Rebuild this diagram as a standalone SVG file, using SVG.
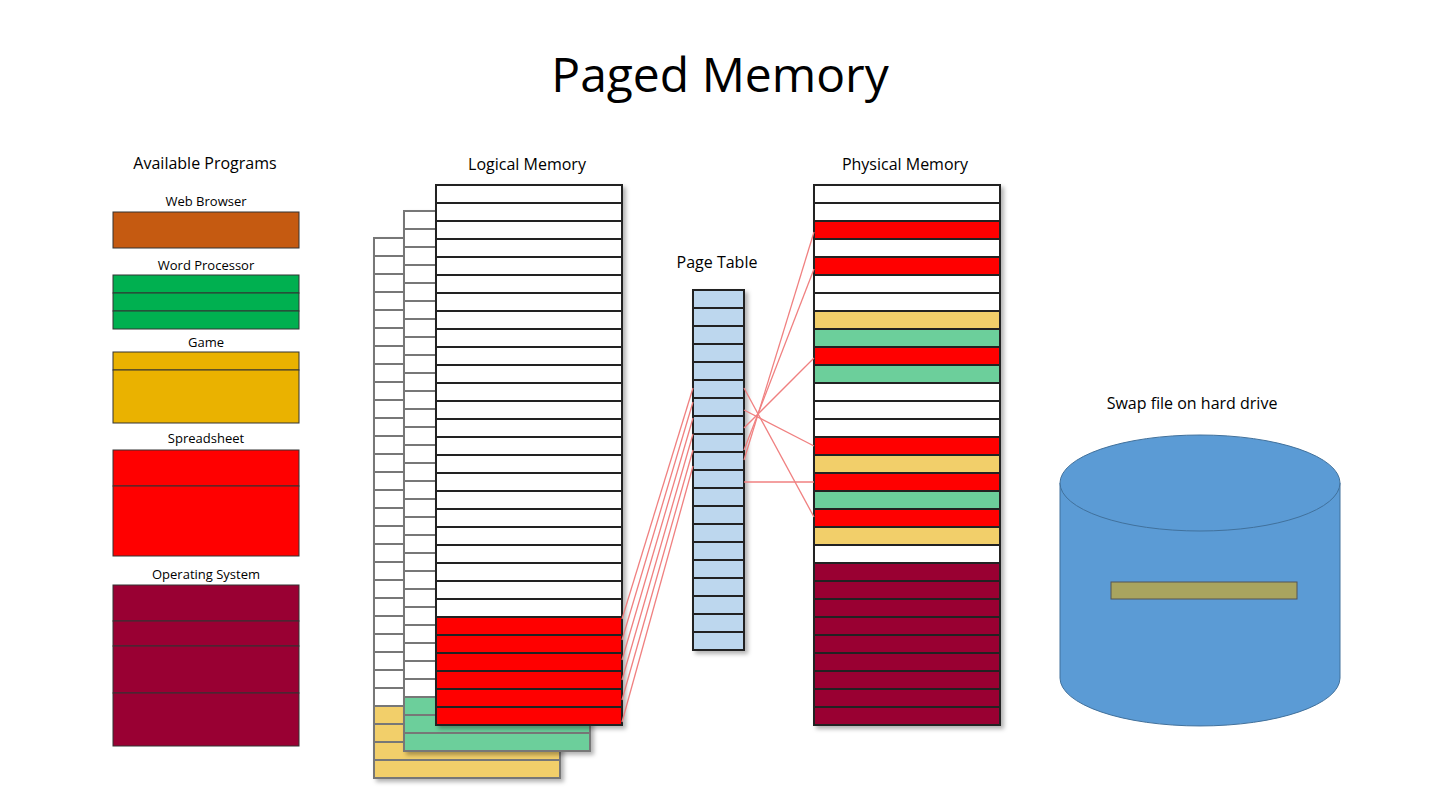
<svg xmlns="http://www.w3.org/2000/svg" width="1440" height="810" viewBox="0 0 1440 810">
<defs>
<style>
text{font-family:"Open Sans","Liberation Sans",sans-serif;fill:#000}
.t{font-size:16px;text-anchor:middle}
.s{font-size:13px;text-anchor:middle}
.w{fill:#fff}.r{fill:#ff0000}.y{fill:#f2cf6b}.g{fill:#6ccf9b}.d{fill:#990033}.b{fill:#bdd7ee}
.k rect{stroke:#222;stroke-width:2}
.k2 rect{stroke:#777;stroke-width:2}
.c line{stroke:#f08080;stroke-width:1.3}
</style>
<filter id="sh" x="-10%" y="-10%" width="130%" height="130%"><feDropShadow dx="3" dy="3" stdDeviation="2" flood-opacity="0.3"/></filter>
</defs>
<rect width="1440" height="810" fill="#fff"/>
<text x="720" y="92" style="font-size:48px;text-anchor:middle">Paged Memory</text>

<g id="programs">
<text class="t" x="205" y="169">Available Programs</text>
<text class="s" x="206" y="206">Web Browser</text>
<rect x="113" y="212" width="186" height="36" fill="#c55a11" stroke="#333"/>
<text class="s" x="206" y="270">Word Processor</text>
<g fill="#00b050" stroke="#333"><rect x="113" y="275" width="186" height="18"/><rect x="113" y="293" width="186" height="18"/><rect x="113" y="311" width="186" height="18"/></g>
<text class="s" x="206" y="347">Game</text>
<g fill="#eab200" stroke="#333"><rect x="113" y="352" width="186" height="18"/><rect x="113" y="370" width="186" height="53"/></g>
<text class="s" x="206" y="443">Spreadsheet</text>
<g fill="#ff0000" stroke="#333"><rect x="113" y="450" width="186" height="36"/><rect x="113" y="486" width="186" height="70"/></g>
<text class="s" x="206" y="579">Operating System</text>
<g fill="#990033" stroke="#333"><rect x="113" y="585" width="186" height="36"/><rect x="113" y="621" width="186" height="25"/><rect x="113" y="646" width="186" height="47"/><rect x="113" y="693" width="186" height="53"/></g>
</g>

<g id="logical-memory">
<text class="t" x="527" y="170">Logical Memory</text>
<g id="stack3" class="k2" filter="url(#sh)">
<rect x="374" y="238" width="186" height="540" fill="#fff"/>
<rect class="w" x="374" y="238" width="186" height="18"/><rect class="w" x="374" y="256" width="186" height="18"/><rect class="w" x="374" y="274" width="186" height="18"/><rect class="w" x="374" y="292" width="186" height="18"/><rect class="w" x="374" y="310" width="186" height="18"/><rect class="w" x="374" y="328" width="186" height="18"/><rect class="w" x="374" y="346" width="186" height="18"/><rect class="w" x="374" y="364" width="186" height="18"/><rect class="w" x="374" y="382" width="186" height="18"/><rect class="w" x="374" y="400" width="186" height="18"/><rect class="w" x="374" y="418" width="186" height="18"/><rect class="w" x="374" y="436" width="186" height="18"/><rect class="w" x="374" y="454" width="186" height="18"/><rect class="w" x="374" y="472" width="186" height="18"/><rect class="w" x="374" y="490" width="186" height="18"/><rect class="w" x="374" y="508" width="186" height="18"/><rect class="w" x="374" y="526" width="186" height="18"/><rect class="w" x="374" y="544" width="186" height="18"/><rect class="w" x="374" y="562" width="186" height="18"/><rect class="w" x="374" y="580" width="186" height="18"/><rect class="w" x="374" y="598" width="186" height="18"/><rect class="w" x="374" y="616" width="186" height="18"/><rect class="w" x="374" y="634" width="186" height="18"/><rect class="w" x="374" y="652" width="186" height="18"/><rect class="w" x="374" y="670" width="186" height="18"/><rect class="w" x="374" y="688" width="186" height="18"/>
<rect class="y" x="374" y="706" width="186" height="18"/><rect class="y" x="374" y="724" width="186" height="18"/><rect class="y" x="374" y="742" width="186" height="18"/><rect class="y" x="374" y="760" width="186" height="18"/>
</g>
<g id="stack2" class="k2" filter="url(#sh)">
<rect x="404" y="211" width="186" height="540" fill="#fff"/>
<rect class="w" x="404" y="211" width="186" height="18"/><rect class="w" x="404" y="229" width="186" height="18"/><rect class="w" x="404" y="247" width="186" height="18"/><rect class="w" x="404" y="265" width="186" height="18"/><rect class="w" x="404" y="283" width="186" height="18"/><rect class="w" x="404" y="301" width="186" height="18"/><rect class="w" x="404" y="319" width="186" height="18"/><rect class="w" x="404" y="337" width="186" height="18"/><rect class="w" x="404" y="355" width="186" height="18"/><rect class="w" x="404" y="373" width="186" height="18"/><rect class="w" x="404" y="391" width="186" height="18"/><rect class="w" x="404" y="409" width="186" height="18"/><rect class="w" x="404" y="427" width="186" height="18"/><rect class="w" x="404" y="445" width="186" height="18"/><rect class="w" x="404" y="463" width="186" height="18"/><rect class="w" x="404" y="481" width="186" height="18"/><rect class="w" x="404" y="499" width="186" height="18"/><rect class="w" x="404" y="517" width="186" height="18"/><rect class="w" x="404" y="535" width="186" height="18"/><rect class="w" x="404" y="553" width="186" height="18"/><rect class="w" x="404" y="571" width="186" height="18"/><rect class="w" x="404" y="589" width="186" height="18"/><rect class="w" x="404" y="607" width="186" height="18"/><rect class="w" x="404" y="625" width="186" height="18"/><rect class="w" x="404" y="643" width="186" height="18"/><rect class="w" x="404" y="661" width="186" height="18"/><rect class="w" x="404" y="679" width="186" height="18"/>
<rect class="g" x="404" y="697" width="186" height="18"/><rect class="g" x="404" y="715" width="186" height="18"/><rect class="g" x="404" y="733" width="186" height="18"/>
</g>
<g id="stack1" class="k" filter="url(#sh)">
<rect x="436" y="185" width="186" height="540" fill="#fff"/>
<rect class="w" x="436" y="185" width="186" height="18"/><rect class="w" x="436" y="203" width="186" height="18"/><rect class="w" x="436" y="221" width="186" height="18"/><rect class="w" x="436" y="239" width="186" height="18"/><rect class="w" x="436" y="257" width="186" height="18"/><rect class="w" x="436" y="275" width="186" height="18"/><rect class="w" x="436" y="293" width="186" height="18"/><rect class="w" x="436" y="311" width="186" height="18"/><rect class="w" x="436" y="329" width="186" height="18"/><rect class="w" x="436" y="347" width="186" height="18"/><rect class="w" x="436" y="365" width="186" height="18"/><rect class="w" x="436" y="383" width="186" height="18"/><rect class="w" x="436" y="401" width="186" height="18"/><rect class="w" x="436" y="419" width="186" height="18"/><rect class="w" x="436" y="437" width="186" height="18"/><rect class="w" x="436" y="455" width="186" height="18"/><rect class="w" x="436" y="473" width="186" height="18"/><rect class="w" x="436" y="491" width="186" height="18"/><rect class="w" x="436" y="509" width="186" height="18"/><rect class="w" x="436" y="527" width="186" height="18"/><rect class="w" x="436" y="545" width="186" height="18"/><rect class="w" x="436" y="563" width="186" height="18"/><rect class="w" x="436" y="581" width="186" height="18"/><rect class="w" x="436" y="599" width="186" height="18"/>
<rect class="r" x="436" y="617" width="186" height="18"/><rect class="r" x="436" y="635" width="186" height="18"/><rect class="r" x="436" y="653" width="186" height="18"/><rect class="r" x="436" y="671" width="186" height="18"/><rect class="r" x="436" y="689" width="186" height="18"/><rect class="r" x="436" y="707" width="186" height="18"/>
</g>
</g>

<g id="page-table">
<text class="t" x="717" y="268">Page Table</text>
<g class="k" filter="url(#sh)">
<rect class="b" x="693" y="290" width="51" height="18"/><rect class="b" x="693" y="308" width="51" height="18"/><rect class="b" x="693" y="326" width="51" height="18"/><rect class="b" x="693" y="344" width="51" height="18"/><rect class="b" x="693" y="362" width="51" height="18"/><rect class="b" x="693" y="380" width="51" height="18"/><rect class="b" x="693" y="398" width="51" height="18"/><rect class="b" x="693" y="416" width="51" height="18"/><rect class="b" x="693" y="434" width="51" height="18"/><rect class="b" x="693" y="452" width="51" height="18"/><rect class="b" x="693" y="470" width="51" height="18"/><rect class="b" x="693" y="488" width="51" height="18"/><rect class="b" x="693" y="506" width="51" height="18"/><rect class="b" x="693" y="524" width="51" height="18"/><rect class="b" x="693" y="542" width="51" height="18"/><rect class="b" x="693" y="560" width="51" height="18"/><rect class="b" x="693" y="578" width="51" height="18"/><rect class="b" x="693" y="596" width="51" height="18"/><rect class="b" x="693" y="614" width="51" height="18"/><rect class="b" x="693" y="632" width="51" height="18"/>
</g>
</g>

<g id="physical-memory">
<text class="t" x="905" y="170">Physical Memory</text>
<g class="k" filter="url(#sh)">
<rect class="w" x="814" y="185" width="186" height="18"/><rect class="w" x="814" y="203" width="186" height="18"/><rect class="r" x="814" y="221" width="186" height="18"/><rect class="w" x="814" y="239" width="186" height="18"/><rect class="r" x="814" y="257" width="186" height="18"/><rect class="w" x="814" y="275" width="186" height="18"/><rect class="w" x="814" y="293" width="186" height="18"/><rect class="y" x="814" y="311" width="186" height="18"/><rect class="g" x="814" y="329" width="186" height="18"/><rect class="r" x="814" y="347" width="186" height="18"/><rect class="g" x="814" y="365" width="186" height="18"/><rect class="w" x="814" y="383" width="186" height="18"/><rect class="w" x="814" y="401" width="186" height="18"/><rect class="w" x="814" y="419" width="186" height="18"/><rect class="r" x="814" y="437" width="186" height="18"/><rect class="y" x="814" y="455" width="186" height="18"/><rect class="r" x="814" y="473" width="186" height="18"/><rect class="g" x="814" y="491" width="186" height="18"/><rect class="r" x="814" y="509" width="186" height="18"/><rect class="y" x="814" y="527" width="186" height="18"/><rect class="w" x="814" y="545" width="186" height="18"/>
<rect class="d" x="814" y="563" width="186" height="18"/><rect class="d" x="814" y="581" width="186" height="18"/><rect class="d" x="814" y="599" width="186" height="18"/><rect class="d" x="814" y="617" width="186" height="18"/><rect class="d" x="814" y="635" width="186" height="18"/><rect class="d" x="814" y="653" width="186" height="18"/><rect class="d" x="814" y="671" width="186" height="18"/><rect class="d" x="814" y="689" width="186" height="18"/><rect class="d" x="814" y="707" width="186" height="18"/>
</g>
</g>

<g id="connectors" class="c">
<line x1="622" y1="619" x2="693" y2="388"/>
<line x1="622" y1="640" x2="693" y2="402"/>
<line x1="622" y1="660" x2="693" y2="418"/>
<line x1="622" y1="680" x2="693" y2="434"/>
<line x1="622" y1="700" x2="693" y2="450"/>
<line x1="622" y1="722" x2="693" y2="466"/>
<line x1="744" y1="388" x2="814" y2="517"/>
<line x1="744" y1="410" x2="814" y2="446"/>
<line x1="744" y1="428" x2="814" y2="358"/>
<line x1="744" y1="450" x2="814" y2="269"/>
<line x1="744" y1="460" x2="814" y2="232"/>
<line x1="744" y1="482" x2="814" y2="482"/>
</g>

<g id="swap-drive">
<text class="t" x="1192" y="409">Swap file on hard drive</text>
<path d="M1060 483 L1060 678 A140 48 0 0 0 1340 678 L1340 483 Z" fill="#5b9bd5" stroke="#41719c"/>
<ellipse cx="1200" cy="483" rx="140" ry="48" fill="#5b9bd5" stroke="#41719c"/>
<rect x="1111" y="582" width="186" height="17" fill="#a9a45f" stroke="#555"/>
</g>
</svg>
